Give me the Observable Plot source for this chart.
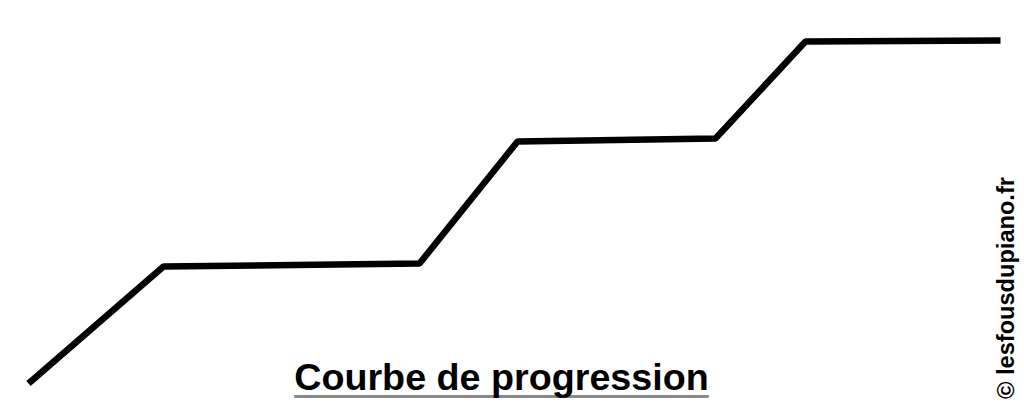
<!DOCTYPE html>
<html>
<head>
<meta charset="utf-8">
<script src="https://cdn.jsdelivr.net/npm/d3@7"></script>
<script src="https://cdn.jsdelivr.net/npm/@observablehq/plot@0.6"></script>
<style>
  html, body { margin: 0; padding: 0; background: #fff; }
  #wrap { position: relative; width: 1024px; height: 410px; overflow: hidden; }
  #title {
    position: absolute; left: 501.5px; top: 359.3px; transform: translateX(-50%);
    font-family: "Liberation Sans", Arial, sans-serif; font-weight: bold; font-size: 37.7px;
    line-height: 1; white-space: nowrap; color: #000;
    text-decoration: underline; text-decoration-color: #8a8a8a;
    text-decoration-thickness: 3px; text-underline-offset: 5px; text-decoration-skip-ink: none;
  }
  #credit {
    position: absolute; left: 1006.5px; top: 287.5px;
    transform: translate(-50%, -50%) rotate(-90deg);
    font-family: "Liberation Sans", Arial, sans-serif; font-weight: bold; font-size: 23.6px;
    line-height: 1; white-space: nowrap; color: #000;
  }
</style>
</head>
<body>
<div id="wrap"></div>
<script>
// Progression curve: time (x) and level (y)
const time  = [2.8, 16.3, 41.9, 51.7, 71.5, 80.5, 100.0];
const level = [2.7, 14.4, 14.7, 26.9, 27.2, 36.9, 37.0];
const titleText = "Courbe de progression";
const creditText = "© lesfousdupiano.fr";

const data = time.map((t, i) => ({time: t, level: level[i]}));

const chart = Plot.plot({
  width: 1024,
  height: 410,
  margin: 0,
  x: {domain: [0, 102.4], axis: null},
  y: {domain: [0, 41], axis: null},
  style: {background: "#fff"},
  marks: [
    Plot.line(data, {
      x: "time", y: "level", stroke: "#000", strokeWidth: 6.5,
      strokeLinejoin: "miter", strokeLinecap: "butt", curve: "linear"
    })
  ]
});

const wrap = document.getElementById("wrap");
wrap.appendChild(chart);
const t = document.createElement("div");
t.id = "title"; t.textContent = titleText; wrap.appendChild(t);
const c = document.createElement("div");
c.id = "credit"; c.textContent = creditText; wrap.appendChild(c);
</script>
</body>
</html>
